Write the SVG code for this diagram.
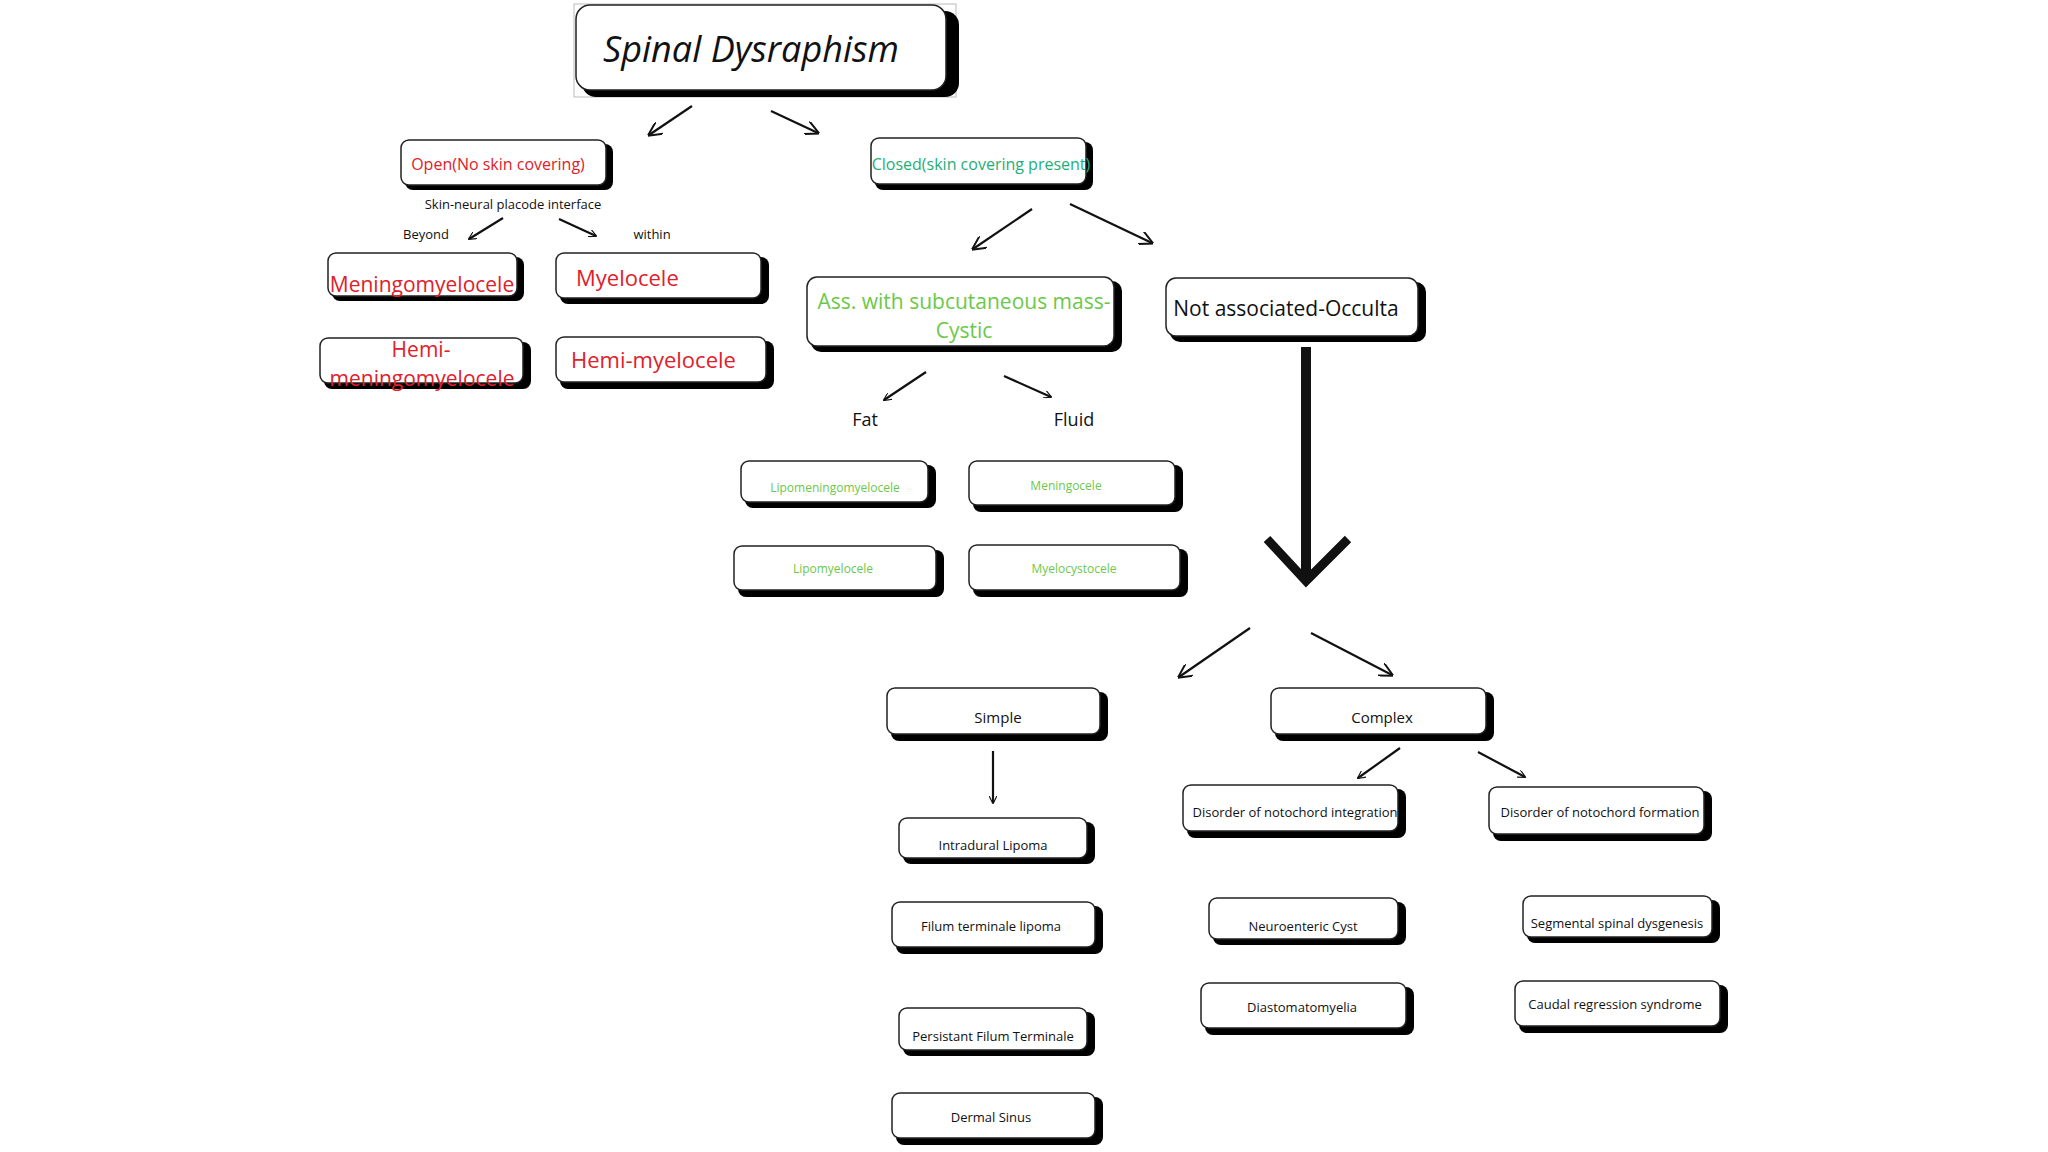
<svg xmlns="http://www.w3.org/2000/svg" width="2048" height="1152" viewBox="0 0 2048 1152">
<style>
.sh{fill:#000}
.bx{fill:#fff;stroke:#222;stroke-width:1.5}
text{font-family:"Open Sans","Noto Sans",sans-serif;text-anchor:middle}
.c line,.c polyline{stroke:#111;stroke-width:2.2;fill:none}
.r{fill:#e0202a}.g{fill:#1fae78}.lg{fill:#6cc84a}.k{fill:#111}
</style>
<defs>
<marker id="a" viewBox="0 0 10 10" refX="9" refY="5" markerWidth="8" markerHeight="8" orient="auto" markerUnits="userSpaceOnUse">
<polyline points="0,0 10,5 0,10" fill="none" stroke="#111" stroke-width="1.4"/>
</marker>
<marker id="a2" viewBox="0 0 10 10" refX="9" refY="5" markerWidth="14" markerHeight="14" orient="auto" markerUnits="userSpaceOnUse">
<polyline points="0,0 10,5 0,10" fill="none" stroke="#111" stroke-width="1.4"/>
</marker>
</defs>
<rect width="2048" height="1152" fill="#fff"/>

<g id="title">
<rect x="574" y="4" width="382" height="93" fill="none" stroke="#bbb" stroke-width="1"/>
<rect class="sh" x="582" y="11" width="377" height="86" rx="14"/>
<rect class="bx" x="576" y="5" width="370" height="85" rx="14"/>
<text x="751" y="62" font-size="36" font-style="italic" class="k">Spinal Dysraphism</text>
</g>
<g id="open">
<rect class="sh" x="405" y="144" width="208" height="46" rx="8"/>
<rect class="bx" x="401" y="140" width="205" height="45" rx="8"/>
<text x="498" y="170" font-size="16" class="r">Open(No skin covering)</text>
</g>
<g id="closed">
<rect class="sh" x="875" y="142" width="218" height="48" rx="8"/>
<rect class="bx" x="871" y="138" width="215" height="46" rx="8"/>
<text x="981" y="170" font-size="16" class="g">Closed(skin covering present)</text>
</g>
<g id="labels1">
<text x="513" y="209" font-size="13" class="k">Skin-neural placode interface</text>
<text x="426" y="239" font-size="13" class="k">Beyond</text>
<text x="652" y="239" font-size="13" class="k">within</text>
</g>
<g id="meningomyelocele">
<rect class="sh" x="332" y="257" width="192" height="44" rx="8"/>
<rect class="bx" x="328" y="253" width="189" height="43" rx="8"/>
<text x="422" y="292" font-size="21" class="r">Meningomyelocele</text>
</g>
<g id="myelocele">
<rect class="sh" x="560" y="257" width="209" height="47" rx="8"/>
<rect class="bx" x="556" y="253" width="205" height="45" rx="8"/>
<text x="576" y="286" font-size="22" class="r" text-anchor="start" style="text-anchor:start">Myelocele</text>
</g>
<g id="hemimeningo">
<rect class="sh" x="324" y="342" width="207" height="47" rx="8"/>
<rect class="bx" x="320" y="338" width="203" height="45" rx="8"/>
<text x="421" y="357" font-size="21" class="r">Hemi-</text>
<text x="422" y="386" font-size="21" class="r">meningomyelocele</text>
</g>
<g id="hemimyelocele">
<rect class="sh" x="560" y="341" width="214" height="48" rx="8"/>
<rect class="bx" x="556" y="337" width="210" height="45" rx="8"/>
<text x="571" y="368" font-size="22" class="r" style="text-anchor:start">Hemi-myelocele</text>
</g>
<g id="ass">
<rect class="sh" x="811" y="281" width="311" height="71" rx="10"/>
<rect class="bx" x="807" y="277" width="307" height="69" rx="10"/>
<text x="964" y="309" font-size="21" class="lg">Ass. with subcutaneous mass-</text>
<text x="964" y="338" font-size="21" class="lg">Cystic</text>
</g>
<g id="notass">
<rect class="sh" x="1170" y="282" width="256" height="60" rx="10"/>
<rect class="bx" x="1166" y="278" width="252" height="58" rx="10"/>
<text x="1286" y="316" font-size="21" class="k">Not associated-Occulta</text>
</g>
<g id="fatfluid">
<text x="865" y="426" font-size="18" class="k">Fat</text>
<text x="1074" y="426" font-size="18" class="k">Fluid</text>
</g>
<g id="lipomeningo">
<rect class="sh" x="745" y="465" width="191" height="43" rx="8"/>
<rect class="bx" x="741" y="461" width="187" height="41" rx="8"/>
<text x="835" y="492" font-size="12" class="lg">Lipomeningomyelocele</text>
</g>
<g id="meningocele">
<rect class="sh" x="973" y="465" width="210" height="47" rx="8"/>
<rect class="bx" x="969" y="461" width="206" height="44" rx="8"/>
<text x="1066" y="490" font-size="12" class="lg">Meningocele</text>
</g>
<g id="lipomyelocele">
<rect class="sh" x="738" y="550" width="206" height="47" rx="8"/>
<rect class="bx" x="734" y="546" width="202" height="44" rx="8"/>
<text x="833" y="573" font-size="12" class="lg">Lipomyelocele</text>
</g>
<g id="myelocystocele">
<rect class="sh" x="973" y="549" width="215" height="48" rx="8"/>
<rect class="bx" x="969" y="545" width="211" height="45" rx="8"/>
<text x="1074" y="573" font-size="12" class="lg">Myelocystocele</text>
</g>
<g id="simple">
<rect class="sh" x="891" y="692" width="217" height="49" rx="8"/>
<rect class="bx" x="887" y="688" width="213" height="46" rx="8"/>
<text x="998" y="723" font-size="15" class="k">Simple</text>
</g>
<g id="complex">
<rect class="sh" x="1275" y="692" width="219" height="49" rx="8"/>
<rect class="bx" x="1271" y="688" width="215" height="46" rx="8"/>
<text x="1382" y="723" font-size="15" class="k">Complex</text>
</g>
<g id="dni">
<rect class="sh" x="1187" y="789" width="219" height="49" rx="8"/>
<rect class="bx" x="1183" y="785" width="215" height="46" rx="8"/>
<text x="1295" y="817" font-size="13" class="k">Disorder of notochord integration</text>
</g>
<g id="dnf">
<rect class="sh" x="1493" y="791" width="219" height="50" rx="8"/>
<rect class="bx" x="1489" y="787" width="215" height="47" rx="8"/>
<text x="1600" y="817" font-size="13" class="k">Disorder of notochord formation</text>
</g>
<g id="intradural">
<rect class="sh" x="903" y="822" width="192" height="42" rx="8"/>
<rect class="bx" x="899" y="818" width="188" height="40" rx="8"/>
<text x="993" y="850" font-size="13" class="k">Intradural Lipoma</text>
</g>
<g id="filum">
<rect class="sh" x="896" y="906" width="207" height="48" rx="8"/>
<rect class="bx" x="892" y="902" width="203" height="45" rx="8"/>
<text x="991" y="931" font-size="13" class="k">Filum terminale lipoma</text>
</g>
<g id="persistant">
<rect class="sh" x="903" y="1012" width="192" height="44" rx="8"/>
<rect class="bx" x="899" y="1008" width="188" height="42" rx="8"/>
<text x="993" y="1041" font-size="13" class="k">Persistant Filum Terminale</text>
</g>
<g id="dermal">
<rect class="sh" x="896" y="1097" width="207" height="48" rx="8"/>
<rect class="bx" x="892" y="1093" width="203" height="45" rx="8"/>
<text x="991" y="1122" font-size="13" class="k">Dermal Sinus</text>
</g>
<g id="neuroenteric">
<rect class="sh" x="1213" y="902" width="193" height="43" rx="8"/>
<rect class="bx" x="1209" y="898" width="189" height="41" rx="8"/>
<text x="1303" y="931" font-size="13" class="k">Neuroenteric Cyst</text>
</g>
<g id="diastomatomyelia">
<rect class="sh" x="1205" y="987" width="209" height="48" rx="8"/>
<rect class="bx" x="1201" y="983" width="205" height="45" rx="8"/>
<text x="1302" y="1012" font-size="13" class="k">Diastomatomyelia</text>
</g>
<g id="segmental">
<rect class="sh" x="1527" y="900" width="193" height="43" rx="8"/>
<rect class="bx" x="1523" y="896" width="189" height="41" rx="8"/>
<text x="1617" y="928" font-size="13" class="k">Segmental spinal dysgenesis</text>
</g>
<g id="caudal">
<rect class="sh" x="1519" y="985" width="209" height="48" rx="8"/>
<rect class="bx" x="1515" y="981" width="205" height="45" rx="8"/>
<text x="1615" y="1009" font-size="13" class="k">Caudal regression syndrome</text>
</g>

<g id="connectors" class="c">
<line x1="692" y1="106" x2="649" y2="135" marker-end="url(#a2)"/>
<line x1="771" y1="111" x2="818" y2="133" marker-end="url(#a2)"/>
<line x1="503" y1="218" x2="469" y2="239" marker-end="url(#a)"/>
<line x1="559" y1="219" x2="596" y2="236" marker-end="url(#a)"/>
<line x1="1032" y1="209" x2="973" y2="249" marker-end="url(#a2)"/>
<line x1="1070" y1="204" x2="1152" y2="243" stroke-width="3" marker-end="url(#a2)"/>
<line x1="926" y1="372" x2="884" y2="400" marker-end="url(#a)"/>
<line x1="1004" y1="376" x2="1051" y2="397" marker-end="url(#a)"/>
<line x1="1306" y1="347" x2="1306" y2="578" style="stroke-width:10"/>
<polyline points="1267,539 1306,581 1348,539" style="stroke-width:9"/>
<line x1="1250" y1="628" x2="1179" y2="677" stroke-width="3" marker-end="url(#a2)"/>
<line x1="1311" y1="633" x2="1392" y2="675" stroke-width="3" marker-end="url(#a2)"/>
<line x1="993" y1="751" x2="993" y2="803" marker-end="url(#a)"/>
<line x1="1400" y1="748" x2="1358" y2="778" marker-end="url(#a)"/>
<line x1="1478" y1="752" x2="1525" y2="777" marker-end="url(#a)"/>
</g>
</svg>
